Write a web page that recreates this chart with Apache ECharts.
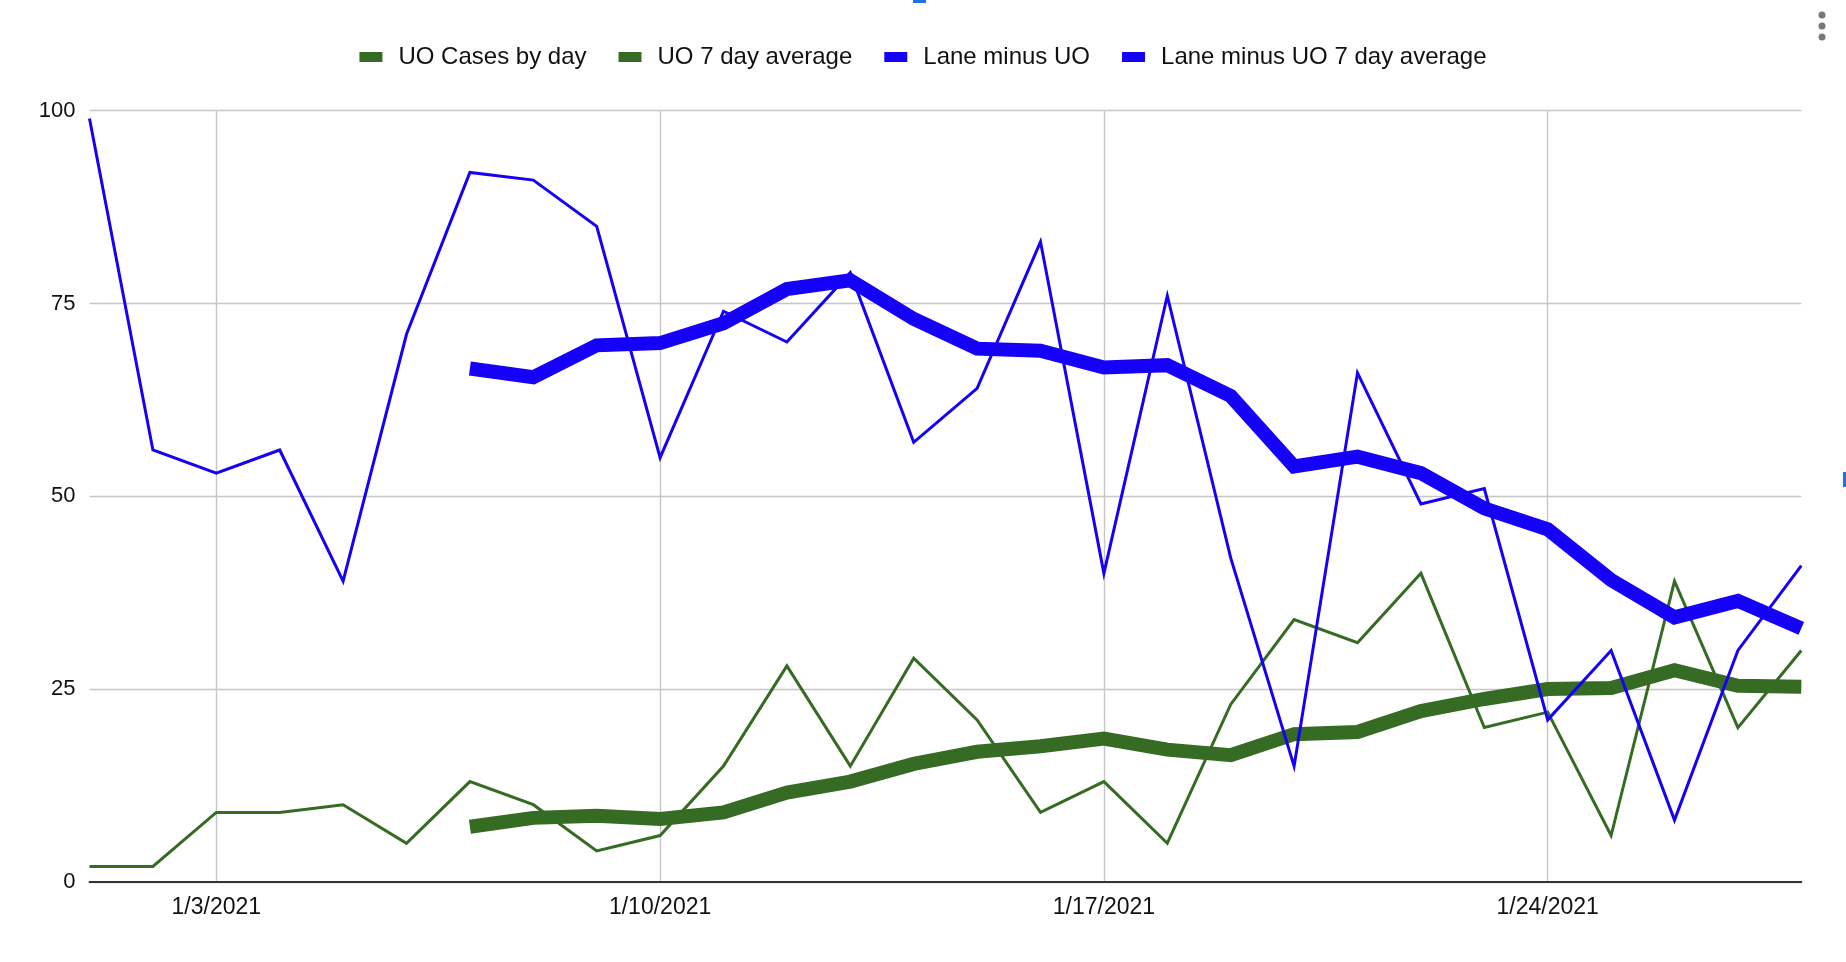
<!DOCTYPE html>
<html>
<head>
<meta charset="utf-8">
<script src="https://cdn.jsdelivr.net/npm/echarts@6/dist/echarts.min.js"></script>
<style>
html,body{margin:0;padding:0;background:#fff;}
#chart{width:1846px;height:962px;}
</style>
</head>
<body>
<div id="chart"></div>
<script>
const categories = ['1/1/2021','1/2/2021','1/3/2021','1/4/2021','1/5/2021','1/6/2021','1/7/2021',
  '1/8/2021','1/9/2021','1/10/2021','1/11/2021','1/12/2021','1/13/2021','1/14/2021',
  '1/15/2021','1/16/2021','1/17/2021','1/18/2021','1/19/2021','1/20/2021','1/21/2021',
  '1/22/2021','1/23/2021','1/24/2021','1/25/2021','1/26/2021','1/27/2021','1/28/2021'];
const labeledDates = ['1/3/2021','1/10/2021','1/17/2021','1/24/2021'];
const yTicks = [0, 25, 50, 75, 100];

const uoCases = [2,2,9,9,10,5,13,10,4,6,15,28,15,29,21,9,13,5,23,34,31,40,20,22,6,39,20,30];
const uo7Avg = [null,null,null,null,null,null,7.14,8.29,8.57,8.14,9.00,11.57,13.00,15.29,
  16.86,17.57,18.57,17.14,16.43,19.14,19.43,22.14,23.71,25.00,25.14,27.43,25.43,25.29];
const laneMinusUO = [99,56,53,56,39,71,92,91,85,55,74,70,79,57,64,83,40,76,42,15,66,49,51,21,30,8,30,41];
const laneMinusUO7Avg = [null,null,null,null,null,null,66.57,65.43,69.57,69.86,72.43,76.86,78.00,73.00,
  69.14,68.86,66.71,67.00,63.00,53.86,55.14,53.00,48.43,45.71,39.14,34.29,36.43,32.86];

const seriesNames = ['UO Cases by day','UO 7 day average','Lane minus UO','Lane minus UO 7 day average'];
const green = '#356b22';
const blue = '#1500f8';
const FONT = '"Liberation Sans", Arial, sans-serif';

const chart = echarts.init(document.getElementById('chart'), null, {renderer:'canvas'});
const isLabeled = (idx, val) => labeledDates.indexOf(categories[idx]) >= 0;

function lineSeries(name, data, color, width, z) {
  return {
    name, type:'line', data, showSymbol:false, symbol:'none', connectNulls:false,
    z, animation:false,
    lineStyle:{color, width, join:'miter', miterLimit:10, cap:'butt'},
    itemStyle:{color},
    emphasis:{disabled:true}
  };
}

chart.setOption({
  animation:false,
  backgroundColor:'#fff',
  textStyle:{fontFamily:FONT},
  legend:{
    top:40, left:'center',
    icon:'rect', itemWidth:23, itemHeight:10, itemGap:32,
    textStyle:{fontSize:24, color:'#111', fontFamily:FONT, padding:[0,0,0,11]},
    data:seriesNames
  },
  grid:{left:89.5, right:44.7, top:110.7, bottom:80.2, containLabel:false},
  xAxis:{
    type:'category', data:categories, boundaryGap:false,
    axisLine:{show:true, lineStyle:{color:'#333', width:2}},
    axisTick:{show:false},
    axisLabel:{interval:isLabeled, fontSize:23, color:'#111', margin:14, fontFamily:FONT},
    splitLine:{show:true, interval:isLabeled, lineStyle:{color:'#c6c6c6', width:1.4}}
  },
  yAxis:{
    type:'value', min:yTicks[0], max:yTicks[yTicks.length-1], interval:25,
    axisLine:{show:false}, axisTick:{show:false},
    axisLabel:{fontSize:22, color:'#111', margin:14, fontFamily:FONT},
    splitLine:{show:true, lineStyle:{color:'#c6c6c6', width:1.4}}
  },
  series:[
    lineSeries(seriesNames[0], uoCases, green, 3, 2),
    lineSeries(seriesNames[1], uo7Avg, green, 14, 3),
    lineSeries(seriesNames[2], laneMinusUO, blue, 3, 4),
    lineSeries(seriesNames[3], laneMinusUO7Avg, blue, 14, 5)
  ],
  graphic:[
    {type:'rect', shape:{x:913, y:0, width:13, height:3}, style:{fill:'#1a73e8'}},
    {type:'rect', shape:{x:1843, y:472, width:3, height:15}, style:{fill:'#1a73e8'}},
    {type:'circle', shape:{cx:1822, cy:15, r:3.5}, style:{fill:'#777'}},
    {type:'circle', shape:{cx:1822, cy:26, r:3.5}, style:{fill:'#777'}},
    {type:'circle', shape:{cx:1822, cy:37, r:3.5}, style:{fill:'#777'}}
  ]
});
</script>
</body>
</html>
